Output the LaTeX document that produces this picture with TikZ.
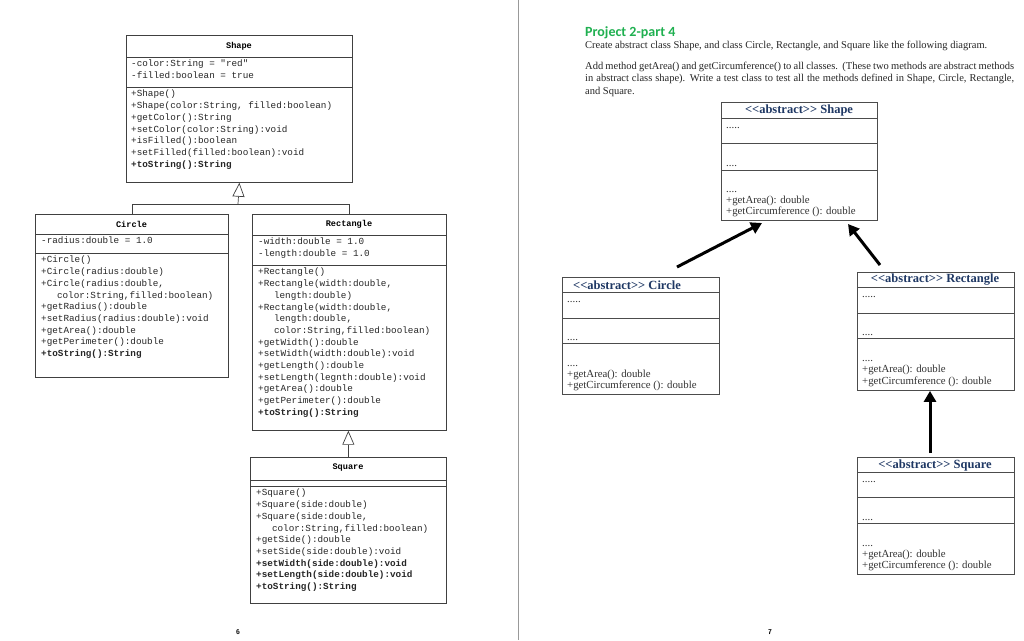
\documentclass[tikz,border=0pt]{standalone}
\usepackage{fontspec}
\setmainfont{Liberation Serif}
\newfontfamily\monof{Liberation Mono}
\newfontfamily\calib{Carlito}
\usetikzlibrary{arrows.meta}
\definecolor{navy}{HTML}{1F3864}
\definecolor{pgreen}{HTML}{1FB050}
\newcommand{\abst}{{<}{<}abstract{>}{>}}
\begin{document}
\begin{tikzpicture}[x=1pt,y=-1pt,
  box/.style={draw=black!75,line width=0.7pt,anchor=north west,inner sep=0},
  sep/.style={draw=black!75,line width=0.7pt},
  mt/.style={anchor=north west,inner sep=0,align=left,font=\monof\fontsize{9.3}{11.7}\selectfont,text=black!85},
  mtitle/.style={inner sep=0,font=\monof\bfseries\fontsize{8.6}{10}\selectfont},
  rbox/.style={draw=black!70,line width=0.9pt,anchor=north west,inner sep=0},
  rt/.style={anchor=base west,inner sep=0,font=\fontsize{10.8}{11}\selectfont,text=black!80},
  rtitle/.style={inner sep=0,font=\bfseries\fontsize{12.5}{13}\selectfont,text=navy},
  bigarrow/.style={line width=3pt,-{Triangle[length=11pt,width=12pt]}}]
\useasboundingbox (0,0) rectangle (1024,640);
\fill[white] (0,0) rectangle (1024,640);
\draw[black!40,line width=1pt] (518,0) -- (518,640);
% ---------- left page ----------
\node[box,minimum width=226pt,minimum height=147pt] (shape) at (126,35) {};
\draw[sep] (126,57) -- (352,57) (126,87) -- (352,87);
\node[mtitle] (shapet) at (239,46) {Shape};
\node[mt] (shapea) at (131,60) {-color:String = "red"\\-filled:boolean = true};
\node[mt] (shapem) at (131,90) {+Shape()\\+Shape(color:String, filled:boolean)\\+getColor():String\\+setColor(color:String):void\\+isFilled():boolean\\+setFilled(filled:boolean):void\\\textbf{+toString():String}};

\node[box,minimum width=193pt,minimum height=163pt] (cir) at (35,214) {};
\draw[sep] (35,234) -- (228,234) (35,253) -- (228,253);
\node[mtitle] (cirt) at (131.5,224) {Circle};
\node[mt] (cira) at (41,237) {-radius:double = 1.0};
\node[mt] (cirm) at (41,256) {+Circle()\\+Circle(radius:double)\\+Circle(radius:double,\\\hspace*{1.7em}color:String,filled:boolean)\\+getRadius():double\\+setRadius(radius:double):void\\+getArea():double\\+getPerimeter():double\\\textbf{+toString():String}};

\node[box,minimum width=194pt,minimum height=216pt] (rect) at (252,214) {};
\draw[sep] (252,235) -- (446,235) (252,265) -- (446,265);
\node[mtitle] (rectt) at (349,224) {Rectangle};
\node[mt] (recta) at (258,238) {-width:double = 1.0\\-length:double = 1.0};
\node[mt] (rectm) at (258,268) {+Rectangle()\\+Rectangle(width:double,\\\hspace*{1.7em}length:double)\\+Rectangle(width:double,\\\hspace*{1.7em}length:double,\\\hspace*{1.7em}color:String,filled:boolean)\\+getWidth():double\\+setWidth(width:double):void\\+getLength():double\\+setLength(legnth:double):void\\+getArea():double\\+getPerimeter():double\\\textbf{+toString():String}};

\node[box,minimum width=196pt,minimum height=146pt] (sq) at (250,457) {};
\draw[sep] (250,480) -- (446,480) (250,486) -- (446,486);
\node[mtitle] (sqt) at (348,468) {Square};
\node[mt] (sqm) at (256,489) {+Square()\\+Square(side:double)\\+Square(side:double,\\\hspace*{1.7em}color:String,filled:boolean)\\+getSide():double\\+setSide(side:double):void\\\textbf{+setWidth(side:double):void}\\\textbf{+setLength(side:double):void}\\\textbf{+toString():String}};

\coordinate (j) at (238,204);
\draw[black!75,line width=0.7pt] (cir.north) |- (rect.north |- j) -- (rect.north);
\draw[black!75,line width=0.7pt,-{Triangle[open,length=14pt,width=12pt]}] (j) -- (shape.south);
\draw[black!75,line width=0.7pt,-{Triangle[open,length=14pt,width=12pt]}] (sq.north) -- (sq.north |- rect.south);

\node[font=\sffamily\bfseries\fontsize{7}{8}\selectfont] (p6) at (238,632) {6};
% ---------- right page ----------
\node[anchor=north west,inner sep=0,font=\calib\bfseries\fontsize{14}{15}\selectfont,text=pgreen] (ttl) at (585,26) {Project 2-part 4};
\node[anchor=north west,inner sep=0,font=\fontsize{10.5}{12.3}\selectfont,text=black!85] (l1) at (585,41) {Create abstract class Shape, and class Circle, Rectangle, and Square like the following diagram.};
\node[anchor=north west,inner sep=0,text width=429pt,align=justify,font=\fontsize{10.5}{12.3}\selectfont,text=black!85] (l2) at (585,62) {\hyphenpenalty=10000 Add method getArea() and getCircumference() to all classes.\ \ (These two methods are abstract methods in abstract class shape). Write a test class to test all the methods defined in Shape, Circle, Rectangle, and Square.};

\node[rbox,minimum width=156pt,minimum height=118pt] (rs) at (721,102) {};
\draw[black!70,line width=0.9pt] (721,118) -- (877,118) (721,143) -- (877,143) (721,170) -- (877,170);
\node[rtitle] (rst) at (799,110) {\abst{} Shape};
\node[rt] at (726,128) {.....};
\node[rt] at (726,166) {....};
\node[rt] at (726,192) {....};
\node[rt] at (726,203) {+getArea(): double};
\node[rt] at (726,214) {+getCircumference (): double};

\node[rbox,minimum width=157pt,minimum height=117pt] (rc) at (562,277) {};
\draw[black!70,line width=0.9pt] (562,292) -- (719,292) (562,318) -- (719,318) (562,343) -- (719,343);
\node[rtitle] (rct) at (627,285) {\abst{} Circle};
\node[rt] at (567,302) {.....};
\node[rt] at (567,340) {....};
\node[rt] at (567,366) {....};
\node[rt] at (567,377) {+getArea(): double};
\node[rt] at (567,388) {+getCircumference (): double};

\node[rbox,minimum width=157pt,minimum height=118pt] (rr) at (857,272) {};
\draw[black!70,line width=0.9pt] (857,287) -- (1014,287) (857,313) -- (1014,313) (857,338) -- (1014,338);
\node[rtitle] (rrt) at (935,280) {\abst{} Rectangle};
\node[rt] at (862,297) {.....};
\node[rt] at (862,335) {....};
\node[rt] at (862,361) {....};
\node[rt] at (862,372) {+getArea(): double};
\node[rt] at (862,384) {+getCircumference (): double};

\node[rbox,minimum width=157pt,minimum height=117pt] (rq) at (857,457) {};
\draw[black!70,line width=0.9pt] (857,472) -- (1014,472) (857,497) -- (1014,497) (857,523) -- (1014,523);
\node[rtitle] (rqt) at (935,465) {\abst{} Square};
\node[rt] at (862,482) {.....};
\node[rt] at (862,520) {....};
\node[rt] at (862,546) {....};
\node[rt] at (862,557) {+getArea(): double};
\node[rt] at (862,568) {+getCircumference (): double};

\coordinate (ca) at (677,267);
\coordinate (ra) at (880,265);
\coordinate (qa) at (930,453);
\draw[bigarrow] (ca) -- (762,223);
\draw[bigarrow] (ra) -- (848,224);
\draw[bigarrow] (qa) -- (rr.south -| qa) ;
\node[font=\sffamily\bfseries\fontsize{7}{8}\selectfont] (p7) at (770,632) {7};
\end{tikzpicture}
\end{document}
